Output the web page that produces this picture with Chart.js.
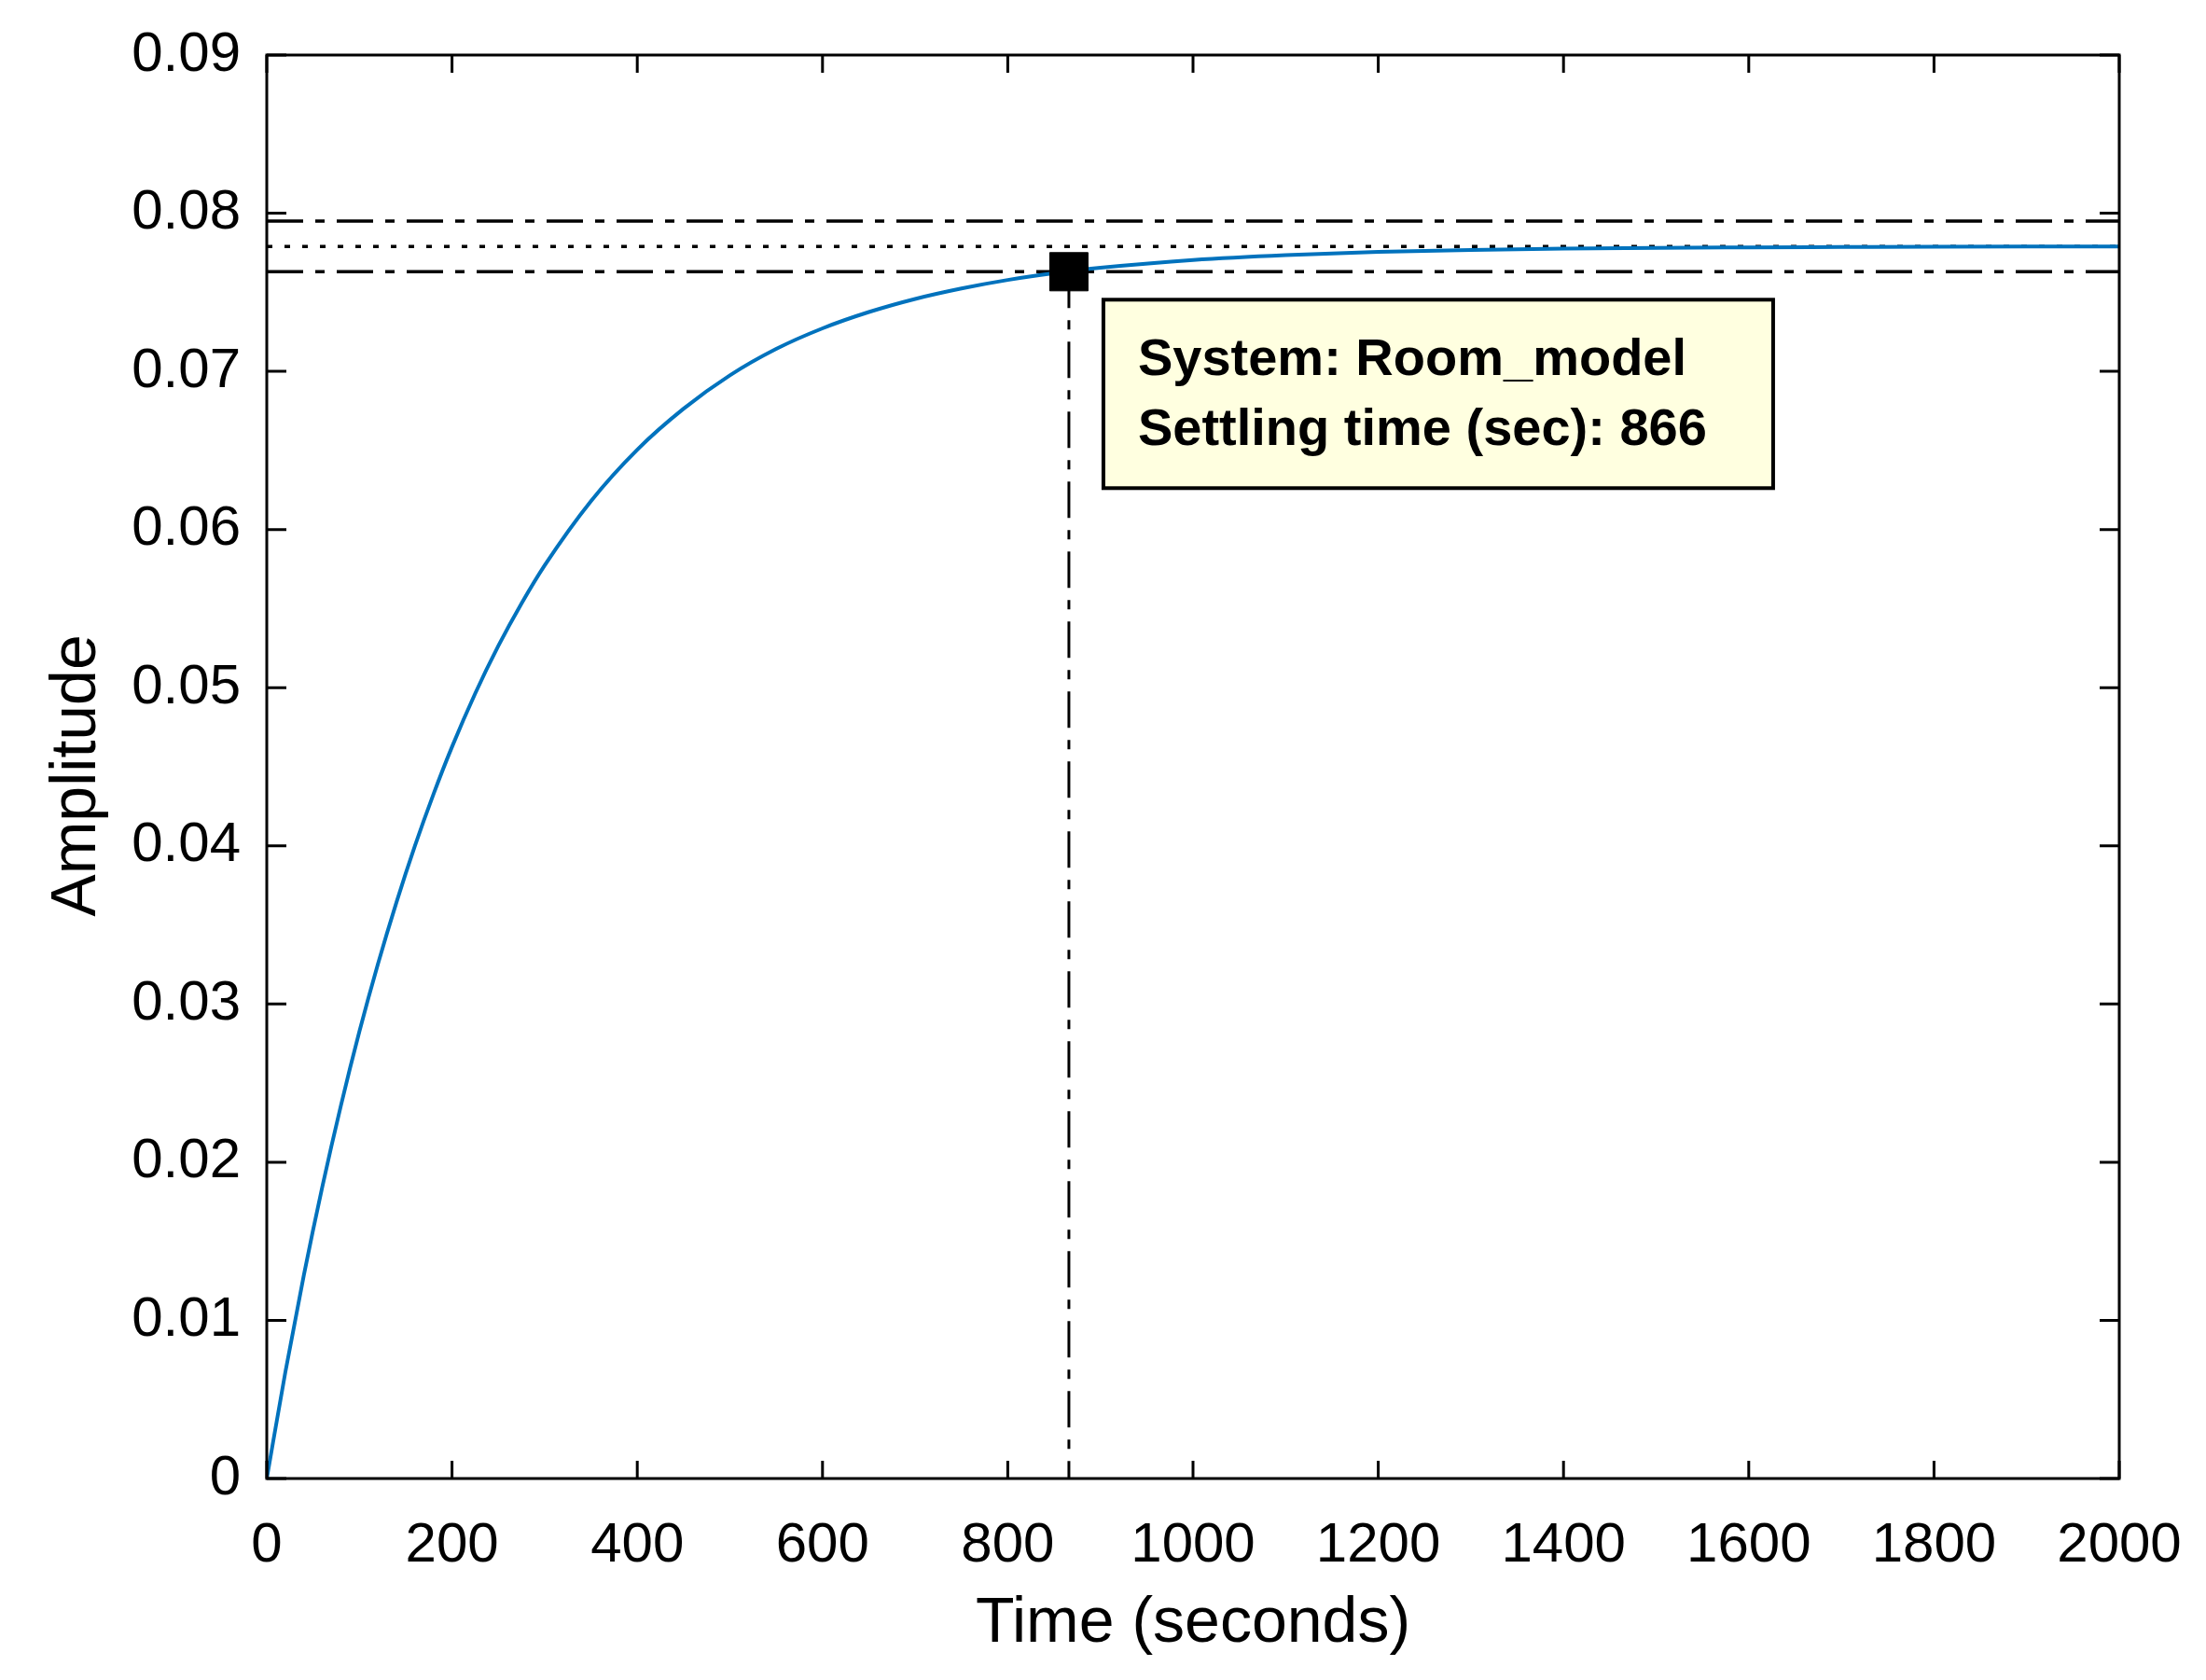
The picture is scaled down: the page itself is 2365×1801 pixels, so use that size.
<!DOCTYPE html>
<html lang="en">
<head>
  <meta charset="UTF-8">
  <title>Step Response - Room_model</title>
  <script src="https://cdn.jsdelivr.net/npm/chart.js"></script>
  <style>
    body {
      margin: 0;
      background: #ffffff;
    }
    canvas {
      display: block;
    }
  </style>
</head>
<body>
  <canvas id="stepChart" width="2365" height="1801"></canvas>

  <script>
    // step response
    const timeSec = [0, 20, 40, 60, 80, 100, 120, 140, 160, 180, 200, 225, 250, 275, 300,
      350, 400, 450, 500, 550, 600, 650, 700, 750, 800, 866, 900, 1000, 1100, 1200,
      1300, 1400, 1500, 1600, 1700, 1800, 1900, 2000];
    const amplitude = [0, 0.00671, 0.01285, 0.01845, 0.02357, 0.02826, 0.03253, 0.03643,
      0.04001, 0.04327, 0.04626, 0.04963, 0.05264, 0.05532, 0.05773, 0.0618, 0.06505,
      0.06764, 0.06975, 0.07142, 0.07272, 0.07375, 0.07458, 0.07524, 0.07578, 0.07633,
      0.07655, 0.07704, 0.07735, 0.07755, 0.07768, 0.07776, 0.07781, 0.07784, 0.07786,
      0.07788, 0.07789, 0.07789];

    // settling time characteristic
    const settleTime = 866;
    const settleAmp = 0.0763;
    const finalValue = 0.0779;
    const upperBound = 0.0795;
    const lowerBound = 0.0763;
    const boundRange = [0, 2000];

    const xTickLabels = ['0', '200', '400', '600', '800', '1000', '1200', '1400', '1600', '1800', '2000'];
    const yTickLabels = ['0', '0.01', '0.02', '0.03', '0.04', '0.05', '0.06', '0.07', '0.08', '0.09'];
    const tipLines = ['System: Room_model', 'Settling time (sec): 866'];

    const FONT = "'Liberation Sans', Arial, sans-serif";
    const DASH_DOT = [39, 13, 10, 13];

    // box round the axes with inward ticks on all four sides
    const frameTicks = {
      id: 'frameTicks',
      afterDatasetsDraw(chart) {
        const { ctx, chartArea: a, scales: { x, y } } = chart;
        ctx.save();
        ctx.strokeStyle = '#000';
        ctx.lineWidth = 3;
        ctx.beginPath();
        x.ticks.forEach(t => {
          const px = x.getPixelForValue(t.value);
          ctx.moveTo(px, a.bottom); ctx.lineTo(px, a.bottom - 19);
          ctx.moveTo(px, a.top); ctx.lineTo(px, a.top + 19);
        });
        y.ticks.forEach(t => {
          const py = y.getPixelForValue(t.value);
          ctx.moveTo(a.left, py); ctx.lineTo(a.left + 21, py);
          ctx.moveTo(a.right, py); ctx.lineTo(a.right - 21, py);
        });
        ctx.stroke();
        ctx.strokeRect(a.left, a.top, a.right - a.left, a.bottom - a.top);
        ctx.restore();
      }
    };

    // data tip box next to the settling point
    const dataTip = {
      id: 'dataTip',
      afterDraw(chart) {
        const { ctx, scales: { x, y } } = chart;
        const px = x.getPixelForValue(settleTime);
        const py = y.getPixelForValue(settleAmp);
        const left = px + 37, top = py + 30, w = 718, h = 202;
        ctx.save();
        ctx.fillStyle = '#ffffe0';
        ctx.fillRect(left, top, w, h);
        ctx.strokeStyle = '#000';
        ctx.lineWidth = 4;
        ctx.strokeRect(left, top, w, h);
        ctx.fillStyle = '#000';
        ctx.font = 'bold 56px ' + FONT;
        ctx.textBaseline = 'alphabetic';
        ctx.textAlign = 'left';
        tipLines.forEach((line, i) => {
          ctx.fillText(line, left + 37, top + 81 + i * 75);
        });
        ctx.restore();
      }
    };

    const ctx = document.getElementById('stepChart').getContext('2d');
    new Chart(ctx, {
      type: 'scatter',
      data: {
        datasets: [
          {
            label: 'settle point',
            data: [{ x: settleTime, y: settleAmp }],
            pointStyle: 'rect',
            pointRadius: 29,
            backgroundColor: '#000',
            borderColor: '#000',
            borderWidth: 1,
            order: 0
          },
          {
            label: 'Room_model',
            data: timeSec.map((t, i) => ({ x: t, y: amplitude[i] })),
            showLine: true,
            borderColor: '#0072bd',
            borderWidth: 4,
            pointRadius: 0,
            cubicInterpolationMode: 'monotone',
            order: 1
          },
          {
            label: 'final value',
            data: boundRange.map(t => ({ x: t, y: finalValue })),
            showLine: true,
            borderColor: '#000',
            borderWidth: 3.5,
            borderDash: [6, 13],
            pointRadius: 0,
            order: 3
          },
          {
            label: 'upper bound',
            data: boundRange.map(t => ({ x: t, y: upperBound })),
            showLine: true,
            borderColor: '#000',
            borderWidth: 3.5,
            borderDash: DASH_DOT,
            pointRadius: 0,
            order: 3
          },
          {
            label: 'lower bound',
            data: boundRange.map(t => ({ x: t, y: lowerBound })),
            showLine: true,
            borderColor: '#000',
            borderWidth: 3.5,
            borderDash: DASH_DOT,
            pointRadius: 0,
            order: 3
          },
          {
            label: 'settling time',
            data: [{ x: settleTime, y: settleAmp }, { x: settleTime, y: 0 }],
            showLine: true,
            borderColor: '#000',
            borderWidth: 3,
            borderDash: DASH_DOT,
            pointRadius: 0,
            order: 2
          }
        ]
      },
      options: {
        responsive: false,
        animation: false,
        devicePixelRatio: 1,
        layout: { padding: { top: 59, right: 93, left: 0, bottom: 0 } },
        plugins: {
          legend: { display: false },
          tooltip: { enabled: false }
        },
        scales: {
          x: {
            type: 'linear',
            min: 0,
            max: 2000,
            afterFit(s) {
              s.height = 216;
              s.paddingLeft = 0;
              s.paddingRight = 0;
            },
            grid: { display: false, drawTicks: false },
            border: { display: false },
            ticks: {
              stepSize: 200,
              autoSkip: false,
              maxRotation: 0,
              padding: 36,
              color: '#000',
              font: { family: FONT, size: 60 },
              callback: (v, i) => xTickLabels[i]
            },
            title: {
              display: true,
              text: 'Time (seconds)',
              color: '#000',
              font: { family: FONT, size: 68 },
              padding: { top: 0, bottom: 19 }
            }
          },
          y: {
            type: 'linear',
            min: 0,
            max: 0.09,
            afterFit(s) {
              s.width = 286;
              s.paddingTop = 0;
              s.paddingBottom = 0;
            },
            grid: { display: false, drawTicks: false },
            border: { display: false },
            ticks: {
              stepSize: 0.01,
              autoSkip: false,
              padding: 28,
              color: '#000',
              font: { family: FONT, size: 60 },
              callback: (v, i) => yTickLabels[i]
            },
            title: {
              display: true,
              text: 'Amplitude ',
              color: '#000',
              font: { family: FONT, size: 68 },
              padding: { top: 42, bottom: 0 }
            }
          }
        }
      },
      plugins: [frameTicks, dataTip]
    });
  </script>
</body>
</html>
